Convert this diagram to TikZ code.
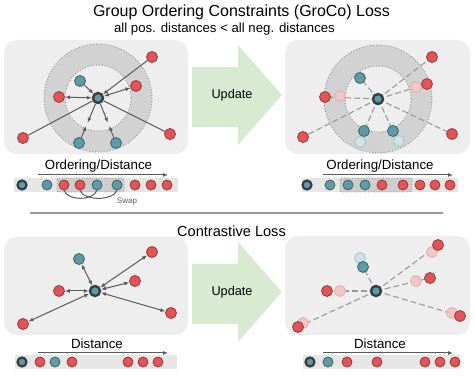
\documentclass[tikz,border=0pt]{standalone}
\usepackage{fontspec}
\setmainfont{Liberation Sans}
\usetikzlibrary{arrows.meta,calc}
\definecolor{panelc}{HTML}{EEEEEE}
\definecolor{ringc}{HTML}{D2D2D2}
\definecolor{dotc}{HTML}{8A8A8A}
\definecolor{redf}{HTML}{E05558}
\definecolor{redd}{HTML}{9E3436}
\definecolor{bluef}{HTML}{5E9BA6}
\definecolor{blued}{HTML}{3C6169}
\definecolor{anchd}{HTML}{353E45}
\definecolor{pinkf}{HTML}{F2C6C6}
\definecolor{pinkd}{HTML}{DDB0B0}
\definecolor{lbluef}{HTML}{CFE3E5}
\definecolor{lblued}{HTML}{A9C3C7}
\definecolor{linec}{HTML}{5A5A5A}
\definecolor{dashc}{HTML}{9A9A9A}
\definecolor{greenc}{HTML}{D9EAD3}
\definecolor{barc}{HTML}{E6E6E6}
\definecolor{boxc}{HTML}{CDCDCD}
\tikzset{
  pt/.style={circle,inner sep=0pt,minimum size=11pt,line width=0.8pt},
  redn/.style={pt,fill=redf,draw=redd},
  bluen/.style={pt,fill=bluef,draw=blued},
  pinkn/.style={pt,fill=pinkf,draw=pinkd},
  lbluen/.style={pt,fill=lbluef,draw=lblued},
  anch/.style={circle,inner sep=0pt,minimum size=10pt,fill=bluef,draw=anchd,line width=2.4pt},
  bpt/.style={circle,inner sep=0pt,minimum size=10pt,line width=0.8pt},
  bred/.style={bpt,fill=redf,draw=redd},
  bblue/.style={bpt,fill=bluef,draw=blued},
  banch/.style={circle,inner sep=0pt,minimum size=9pt,fill=bluef,draw=anchd,line width=2.2pt},
  panel/.style={fill=panelc,rounded corners=13pt},
  conn/.style={draw=linec,line width=1pt},
  tip/.style={-{Latex[length=5pt,width=4pt]}},
  dtip/.style={{Latex[length=5pt,width=4pt]}-{Latex[length=5pt,width=4pt]}},
  dashl/.style={draw=dashc,line width=1.1pt,dash pattern=on 6pt off 3pt},
  bar/.style={fill=barc},
  swapbox/.style={fill=boxc,draw=dotc,dotted,line width=0.8pt,rounded corners=2pt},
  ring/.style={draw=dotc,dotted,line width=0.9pt},
  axis/.style={draw=linec,line width=1pt,-{Latex[length=5pt,width=4pt]}},
  upd/.style={fill=greenc},
  ttl/.style={font=\fontsize{16}{19}\selectfont},
  sub/.style={font=\fontsize{13.2}{16}\selectfont},
  lbl/.style={font=\fontsize{13.3}{16}\selectfont},
}
\begin{document}
\begin{tikzpicture}[x=1pt,y=-1pt]
\useasboundingbox[fill=white] (0,0) rectangle (474,379);
% titles
\node[ttl] (title) at (241.5,12) {Group Ordering Constraints (GroCo) Loss};
\node[sub] (subtitle) at (224.5,29) {all pos. distances < all neg. distances};
\node[font=\fontsize{14.6}{17}\selectfont] (ctitle) at (231.5,231) {Contrastive Loss};
\coordinate (sepL) at (30,213); \coordinate (sepR) at (443,213);
\draw[draw=gray!80,line width=1.6pt] (sepL) -- (sepR);
% panels
\fill[panel] (4,40) rectangle (188,154);
\fill[panel] (285,40) rectangle (470,154);
\fill[panel] (4,237) rectangle (188,335);
\fill[panel] (285,236) rectangle (470,335);
% update arrows
\fill[upd] (192,67) -- (238,67) -- (238,45) -- (282,95) -- (238,145) -- (238,127) -- (192,127) -- cycle;
\node[lbl,font=\fontsize{12.7}{15}\selectfont] (upd1) at (232,95) {Update};
\fill[upd] (192,264) -- (238,264) -- (238,242) -- (282,292) -- (238,342) -- (238,324) -- (192,324) -- cycle;
\node[lbl,font=\fontsize{12.7}{15}\selectfont] (upd2) at (232,292) {Update};
% ===== top-left GroCo
\fill[ringc] (98,98) circle (54);
\draw[ring] (98,98) circle (54);
\fill[panelc] (98,98) circle (33);
\draw[ring] (98,98) circle (33);
\node[anch] (A1) at (98,98) {};
\node[bluen] (a1b1) at (80,81) {};
\node[redn] (a1r1) at (59,97) {};
\node[redn] (a1r2) at (136,86) {};
\node[redn] (a1r3) at (152,57) {};
\node[redn] (a1r4) at (23,138) {};
\node[bluen] (a1b2) at (79,143) {};
\node[bluen] (a1b3) at (116,143) {};
\node[redn] (a1r5) at (170,134) {};
\draw[conn,tip] (a1b1) -- (A1);
\draw[conn,dtip] (a1r1) -- (A1);
\draw[conn,dtip] (a1r2) -- (A1);
\draw[conn,tip] (a1r3) -- (A1);
\draw[conn] (a1r4) -- (A1);
\draw[conn] (a1r5) -- (A1);
\coordinate (m1a) at ($(A1)!0.55!(a1b2)$);
\coordinate (m1b) at ($(A1)!0.62!(a1b2)$);
\coordinate (m2a) at ($(A1)!0.55!(a1b3)$);
\coordinate (m2b) at ($(A1)!0.62!(a1b3)$);
\draw[conn,tip] (A1) -- (m1a);
\draw[conn,tip] (a1b2) -- (m1b);
\draw[conn,tip] (A1) -- (m2a);
\draw[conn,tip] (a1b3) -- (m2b);
% ===== top-right GroCo updated
\fill[ringc] (378,99) circle (54);
\draw[ring] (378,99) circle (54);
\fill[panelc] (378,99) circle (33);
\draw[ring] (378,99) circle (33);
\coordinate (A2c) at (378,99);
\coordinate (t2b1) at (360,78);
\coordinate (t2r1) at (325,97);
\coordinate (t2r2) at (427,84);
\coordinate (t2r3) at (432,57);
\coordinate (t2r4) at (303,137);
\coordinate (t2b2) at (364,131);
\coordinate (t2b3) at (393,131);
\coordinate (t2r5) at (452,134);
\foreach \p in {t2b1,t2r1,t2r2,t2r3,t2r4,t2b2,t2b3,t2r5}{\draw[dashl] (A2c) -- (\p);}
\node[pinkn] (a2p1) at (340,96) {};
\node[pinkn] (a2p2) at (416,87) {};
\node[lbluen] (a2l2) at (360,142) {};
\node[lbluen] (a2l3) at (399,141) {};
\node[bluen] (a2b1) at (t2b1) {};
\node[redn] (a2r1) at (t2r1) {};
\node[redn] (a2r2) at (t2r2) {};
\node[redn] (a2r3) at (t2r3) {};
\node[redn] (a2r4) at (t2r4) {};
\node[bluen] (a2b2) at (t2b2) {};
\node[bluen] (a2b3) at (t2b3) {};
\node[redn] (a2r5) at (t2r5) {};
\node[anch] (A2) at (A2c) {};
% ===== bottom-left contrastive
\node[anch] (A3) at (95,291) {};
\node[bluen] (a3b1) at (79,259) {};
\node[redn] (a3r1) at (152,252) {};
\node[redn] (a3r2) at (135,281) {};
\node[redn] (a3r3) at (59,291) {};
\node[redn] (a3r4) at (171,313) {};
\node[redn] (a3r5) at (23,324) {};
\draw[conn,dtip] (a3b1) -- (A3);
\draw[conn,dtip] (a3r1) -- (A3);
\draw[conn,dtip] (a3r2) -- (A3);
\draw[conn,dtip] (a3r3) -- (A3);
\draw[conn,dtip] (a3r4) -- (A3);
\draw[conn,dtip] (a3r5) -- (A3);
% ===== bottom-right contrastive updated
\coordinate (A4c) at (376,291);
\coordinate (t4b1) at (363,267);
\coordinate (t4r1) at (438,245);
\coordinate (t4r2) at (430,278);
\coordinate (t4r3) at (327,291);
\coordinate (t4r4) at (460,316);
\coordinate (t4r5) at (298,327);
\foreach \p in {t4b1,t4r1,t4r2,t4r3,t4r4,t4r5}{\draw[dashl] (A4c) -- (\p);}
\node[lbluen] (a4l1) at (360,258) {};
\node[pinkn] (a4p1) at (432,252) {};
\node[pinkn] (a4p2) at (416,281) {};
\node[pinkn] (a4p3) at (340,291) {};
\node[pinkn] (a4p4) at (452,313) {};
\node[pinkn] (a4p5) at (303,323) {};
\node[bluen] (a4b1) at (t4b1) {};
\node[redn] (a4r1) at (t4r1) {};
\node[redn] (a4r2) at (t4r2) {};
\node[redn] (a4r3) at (t4r3) {};
\node[redn] (a4r4) at (t4r4) {};
\node[redn] (a4r5) at (t4r5) {};
\node[anch] (A4) at (A4c) {};
% ===== bars
% top-left
\node[lbl] (od1) at (98.5,166) {Ordering/Distance};
\coordinate (ax1s) at (38,175); \coordinate (ax1e) at (168,175);
\draw[axis] (ax1s) -- (ax1e);
\fill[bar] (14,178) rectangle (178,192);
\draw[swapbox] (57,178) rectangle (124,192);
\node[banch] (q0) at (22,185) {};
\node[bblue] (q1) at (47,185) {};
\node[bred] (q2) at (64,185) {};
\node[bred] (q3) at (80,185) {};
\node[bblue] (q4) at (97,185) {};
\node[bblue] (q5) at (117,185) {};
\node[bred] (q6) at (135,185) {};
\node[bred] (q7) at (151,185) {};
\node[bred] (q8) at (167,185) {};
\draw[draw=linec,line width=1pt] (q2.south) .. controls (68,201) and (93,201) .. (q4.south);
\draw[draw=linec,line width=1pt] (q3.south) .. controls (84,201) and (113,201) .. (q5.south);
\node[font=\fontsize{8}{10}\selectfont,text=linec] (swap) at (127,202) {Swap};
% top-right
\node[lbl] (od2) at (380,166) {Ordering/Distance};
\coordinate (ax2s) at (323,175); \coordinate (ax2e) at (453,175);
\draw[axis] (ax2s) -- (ax2e);
\fill[bar] (302,178) rectangle (458,192);
\draw[swapbox] (340,178) rectangle (412,192);
\node[banch] (s0) at (307,185) {};
\node[bblue] (s1) at (330,185) {};
\node[bblue] (s2) at (348,185) {};
\node[bblue] (s3) at (365,185) {};
\node[bred] (s4) at (382,185) {};
\node[bred] (s5) at (403,185) {};
\node[bred] (s6) at (420,185) {};
\node[bred] (s7) at (435,185) {};
\node[bred] (s8) at (450,185) {};
% bottom-left
\node[lbl] (d1) at (97,344) {Distance};
\coordinate (ax3s) at (38,353); \coordinate (ax3e) at (168,353);
\draw[axis] (ax3s) -- (ax3e);
\fill[bar] (15,355) rectangle (177,369);
\node[banch] (u0) at (22,362) {};
\node[bred] (u1) at (40,362) {};
\node[bblue] (u2) at (55,362) {};
\node[bred] (u3) at (72,362) {};
\node[bred] (u4) at (128,362) {};
\node[bred] (u5) at (143,362) {};
\node[bred] (u6) at (158,362) {};
% bottom-right
\node[lbl] (d2) at (380,344) {Distance};
\coordinate (ax4s) at (323,353); \coordinate (ax4e) at (453,353);
\draw[axis] (ax4s) -- (ax4e);
\fill[bar] (303,355) rectangle (460,369);
\node[banch] (v0) at (310,362) {};
\node[bblue] (v1) at (328,362) {};
\node[bred] (v2) at (347,362) {};
\node[bred] (v3) at (377,362) {};
\node[bred] (v4) at (425,362) {};
\node[bred] (v5) at (440,362) {};
\node[bred] (v6) at (455,362) {};
\end{tikzpicture}
\end{document}
